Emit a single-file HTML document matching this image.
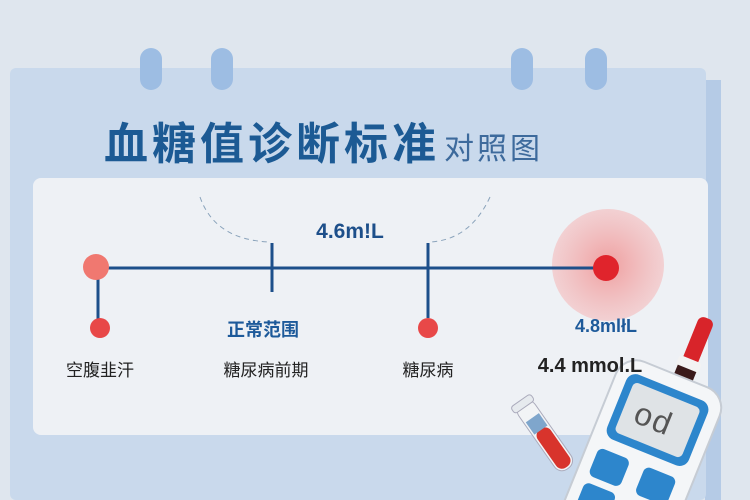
<!DOCTYPE html>
<html><head><meta charset="utf-8"><style>
html,body{margin:0;width:750px;height:500px;overflow:hidden}
body{background:#dfe6ee;font-family:"Liberation Sans","Noto Sans CJK SC",sans-serif;position:relative}
.a{position:absolute}
.t{position:absolute;white-space:nowrap;transform:translateX(-50%)}
</style></head><body>
<div class="a" style="left:705px;top:80px;width:16px;height:420px;background:#b5cbe6"></div>
<div class="a" style="left:10px;top:68px;width:696px;height:432px;background:#c9d9ec;border-radius:6px"></div>
<div class="a" style="left:140px;top:48px;width:22px;height:42px;border-radius:11px;background:#9dbde3"></div>
<div class="a" style="left:211px;top:48px;width:22px;height:42px;border-radius:11px;background:#9dbde3"></div>
<div class="a" style="left:511px;top:48px;width:22px;height:42px;border-radius:11px;background:#9dbde3"></div>
<div class="a" style="left:585px;top:48px;width:22px;height:42px;border-radius:11px;background:#9dbde3"></div>
<div class="a" style="left:104px;top:108px;font-size:44px;font-weight:bold;color:#1c5a94;white-space:nowrap;letter-spacing:4px">血糖值诊断标准<span style="font-size:30px;font-weight:normal;color:#3d6a9c;margin-left:4px;letter-spacing:3px">对照图</span></div>
<div class="a" style="left:33px;top:178px;width:675px;height:257px;background:#eef1f5;border-radius:8px"></div>
<svg class="a" style="left:0;top:0" width="750" height="500">
<defs><radialGradient id="h"><stop offset="0" stop-color="#f08a8a" stop-opacity=".8"/><stop offset="1" stop-color="#f5b0b0" stop-opacity=".5"/></radialGradient></defs>
<circle cx="608" cy="265" r="56" fill="url(#h)"/>
<path d="M200 197 Q215 240 270 242" fill="none" stroke="#8aa3bb" stroke-dasharray="5 4"/>
<path d="M490 197 Q470 240 430 242" fill="none" stroke="#8aa3bb" stroke-dasharray="5 4"/>
<line x1="96" y1="268" x2="606" y2="268" stroke="#1d4f8a" stroke-width="3"/>
<line x1="98" y1="268" x2="98" y2="328" stroke="#1d4f8a" stroke-width="3"/>
<line x1="272" y1="243" x2="272" y2="292" stroke="#1d4f8a" stroke-width="3"/>
<line x1="428" y1="243" x2="428" y2="318" stroke="#1d4f8a" stroke-width="3"/>
<circle cx="96" cy="267" r="13" fill="#f07870"/>
<circle cx="100" cy="328" r="10" fill="#e84848"/>
<circle cx="428" cy="328" r="10" fill="#e84848"/>
<circle cx="606" cy="268" r="13" fill="#e0242c"/>
<g transform="translate(522,403) rotate(-35)">
<rect x="-10" y="0" width="20" height="80" rx="9" fill="#f2f4f6" stroke="#aab"/>
<rect x="-8" y="32" width="16" height="46" rx="7" fill="#d8342c"/>
<rect x="-8" y="18" width="16" height="15" fill="#7fa6cc"/>
<rect x="-12" y="-3" width="24" height="8" rx="3" fill="#e6eaee" stroke="#aab"/>
</g>
<g transform="translate(655,405) rotate(22)">
<rect x="8" y="-100" width="16" height="55" rx="6" fill="#d8242a"/>
<rect x="4" y="-56" width="24" height="12" rx="3" fill="#f3f3f3"/>
<rect x="6" y="-46" width="20" height="14" fill="#3a1a1a"/>
<rect x="-48" y="-36" width="112" height="180" rx="22" fill="#f4f6f8" stroke="#c6ccd4" stroke-width="2"/>
<rect x="-36" y="-22" width="88" height="70" rx="10" fill="#2d86cc"/>
<rect x="-28" y="-14" width="72" height="54" rx="5" fill="#dfe3e6"/>
<text x="-16" y="24" font-size="32" font-family="Liberation Mono" fill="#555">od</text>
<rect x="-36" y="60" width="34" height="30" rx="6" fill="#2d86cc"/>
<rect x="14" y="60" width="34" height="30" rx="6" fill="#2d86cc"/>
<rect x="-36" y="97" width="34" height="30" rx="6" fill="#2d86cc"/>
</g>
</svg>
<div class="t" style="left:350px;top:220px;font-size:21px;font-weight:bold;color:#1d4f8a">4.6m!L</div>
<div class="t" style="left:263px;top:316px;font-size:18px;font-weight:bold;color:#1d5a9a">正常范围</div>
<div class="t" style="left:606px;top:316px;font-size:18px;font-weight:bold;color:#1d5a9a">4.8mlłL</div>
<div class="t" style="left:100px;top:356px;font-size:17px;color:#222">空腹韭汗</div>
<div class="t" style="left:266px;top:356px;font-size:17px;color:#222">糖尿病前期</div>
<div class="t" style="left:428px;top:356px;font-size:17px;color:#222">糖尿病</div>
<div class="t" style="left:590px;top:355px;font-size:20px;font-weight:bold;color:#222">4.4 mmol.L</div>
</body></html>
